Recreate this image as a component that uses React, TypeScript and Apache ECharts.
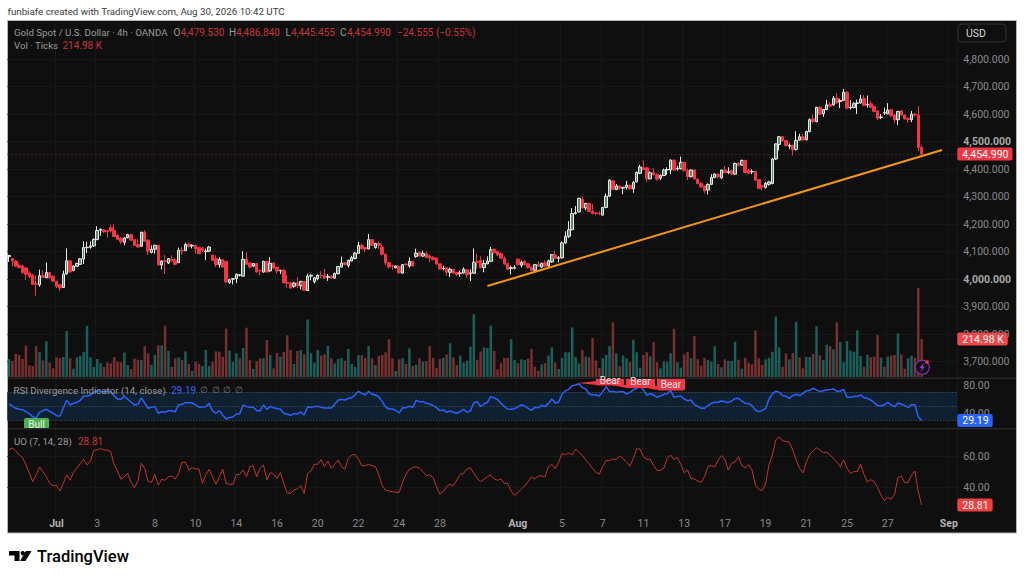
import React, { useEffect, useRef } from "react";
import * as echarts from "echarts";

// open, close, low, high
const candles: number[][] = [
[4082,4086,4063,4089],[4075,4066,4047,4077],[4066,4048,4044,4070],[4050,4043,4038,4058],[4048,4024,4020,4053],[4041,4018,3997,4044],[4022,4010,4004,4029],[4016,3981,3980,4018],[3985,3982,3940,4014],[3980,4013,3973,4035],
[4013,4007,4004,4032],[4005,4024,4004,4061],[4024,4005,4002,4025],[4011,3993,3992,4014],[3993,3973,3968,3993],[3980,3968,3957,3981],[3970,4019,3969,4031],[4019,4067,4016,4112],[4067,4026,4024,4069],[4032,4048,4029,4050],
[4047,4057,4044,4060],[4054,4074,4052,4077],[4074,4115,4055,4138],[4115,4116,4095,4136],[4116,4121,4111,4138],[4121,4145,4117,4148],[4144,4177,4142,4193],[4178,4182,4158,4184],[4179,4172,4168,4182],[4176,4173,4151,4179],
[4187,4177,4170,4199],[4177,4155,4154,4200],[4160,4145,4142,4162],[4150,4136,4127,4153],[4134,4150,4123,4153],[4151,4162,4148,4165],[4162,4142,4141,4165],[4144,4123,4121,4145],[4126,4117,4115,4145],[4120,4171,4117,4172],
[4171,4138,4137,4178],[4142,4102,4088,4144],[4097,4109,4094,4123],[4109,4123,4093,4126],[4123,4052,4050,4126],[4052,4066,4035,4069],[4067,4065,4019,4088],[4059,4075,4055,4077],[4071,4067,4063,4087],[4070,4054,4050,4077],
[4060,4105,4059,4115],[4105,4103,4089,4117],[4104,4126,4102,4133],[4127,4119,4116,4134],[4121,4123,4112,4127],[4123,4110,4093,4126],[4115,4093,4092,4117],[4113,4105,4099,4117],[4100,4102,4069,4111],[4102,4117,4099,4120],
[4088,4069,4067,4089],[4075,4053,4044,4087],[4053,4072,4042,4080],[4071,4044,4043,4072],[4065,3990,3987,4066],[3988,3998,3983,4002],[4000,4002,3981,4002],[4002,4018,3986,4021],[4014,4016,4010,4019],[4011,4072,4010,4102],
[4072,4054,4053,4099],[4059,4044,4039,4061],[4048,4057,4044,4059],[4057,4026,4025,4059],[4031,4030,4013,4035],[4026,4065,4024,4067],[4065,4026,4025,4066],[4030,4058,4027,4080],[4059,4040,4038,4060],[4043,4030,4020,4046],
[4030,4032,4019,4035],[4032,3987,3986,4038],[3988,3986,3969,4014],[3987,3968,3965,3990],[3974,3986,3969,3990],[3987,3976,3968,4007],[3976,3992,3963,3994],[3992,3960,3959,3993],[3959,4011,3958,4020],[4011,4014,3996,4018],
[3991,4005,3984,4008],[4002,4014,3996,4018],[4014,4013,4002,4029],[4014,4004,4002,4038],[4007,4009,3994,4019],[4011,4004,4002,4014],[4004,4021,4001,4024],[4020,4046,4018,4048],[4044,4059,4043,4082],[4060,4053,4050,4063],
[4050,4069,4042,4071],[4066,4078,4065,4085],[4075,4095,4072,4099],[4094,4123,4093,4136],[4123,4111,4108,4130],[4115,4109,4097,4117],[4110,4144,4109,4164],[4144,4123,4121,4145],[4115,4130,4111,4132],[4130,4123,4111,4138],
[4117,4091,4086,4126],[4091,4059,4050,4093],[4060,4044,4038,4062],[4050,4048,4034,4053],[4042,4048,4039,4050],[4047,4023,4021,4048],[4022,4053,4020,4055],[4055,4053,4050,4057],[4048,4065,4042,4079],[4065,4048,4047,4066],
[4083,4095,4078,4111],[4098,4084,4083,4100],[4084,4094,4081,4104],[4093,4078,4077,4101],[4085,4078,4061,4090],[4079,4072,4068,4085],[4077,4055,4053,4078],[4056,4037,4036,4057],[4038,4040,4032,4049],[4042,4025,4012,4043],
[4025,4036,4008,4042],[4036,4022,4020,4038],[4025,4017,4012,4026],[4021,4023,4008,4032],[4023,4036,4020,4043],[4034,4016,4005,4036],[4020,4023,3993,4036],[4022,4062,4020,4112],[4064,4061,4037,4093],[4068,4042,4040,4083],
[4042,4057,4025,4071],[4056,4066,4054,4083],[4065,4107,4062,4117],[4109,4096,4094,4112],[4101,4088,4085,4104],[4093,4076,4075,4098],[4076,4055,4053,4083],[4057,4036,4034,4059],[4039,4042,4017,4049],[4040,4042,4036,4051],
[4073,4053,4050,4076],[4051,4061,4043,4068],[4066,4053,4050,4068],[4056,4042,4039,4059],[4044,4032,4028,4047],[4033,4053,4027,4055],[4054,4047,4044,4066],[4044,4057,4042,4061],[4060,4047,4044,4068],[4049,4067,4042,4071],
[4063,4089,4059,4092],[4088,4076,4073,4104],[4076,4078,4061,4084],[4078,4132,4074,4137],[4132,4156,4129,4174],[4156,4180,4150,4211],[4180,4239,4178,4259],[4239,4242,4235,4266],[4245,4294,4242,4296],[4290,4259,4257,4300],
[4259,4275,4251,4278],[4276,4246,4245,4278],[4247,4239,4236,4273],[4241,4239,4233,4244],[4240,4238,4233,4247],[4233,4261,4233,4263],[4261,4302,4258,4312],[4302,4360,4300,4364],[4358,4326,4324,4360],[4326,4339,4324,4346],
[4339,4330,4326,4341],[4331,4334,4309,4336],[4334,4342,4326,4358],[4342,4329,4326,4345],[4329,4352,4314,4357],[4354,4388,4352,4392],[4385,4408,4382,4415],[4405,4398,4397,4432],[4405,4365,4354,4408],[4365,4387,4363,4392],
[4388,4380,4377,4403],[4381,4364,4358,4385],[4368,4377,4360,4381],[4377,4397,4375,4402],[4397,4399,4380,4407],[4397,4433,4382,4436],[4433,4397,4395,4435],[4401,4403,4395,4412],[4402,4425,4399,4446],[4425,4395,4392,4427],
[4395,4373,4360,4402],[4373,4397,4370,4399],[4397,4364,4363,4399],[4364,4348,4345,4367],[4349,4336,4331,4352],[4339,4321,4312,4341],[4324,4345,4308,4348],[4345,4370,4342,4382],[4370,4382,4367,4385],[4382,4373,4368,4385],
[4369,4397,4365,4399],[4397,4387,4385,4412],[4388,4391,4382,4407],[4395,4382,4379,4397],[4382,4421,4380,4424],[4422,4414,4409,4425],[4415,4432,4412,4435],[4432,4388,4387,4433],[4397,4385,4382,4399],[4390,4392,4382,4399],
[4392,4360,4358,4395],[4362,4330,4328,4363],[4340,4336,4324,4342],[4334,4348,4329,4354],[4345,4354,4340,4358],[4348,4437,4345,4440],[4437,4492,4433,4494],[4490,4518,4468,4521],[4518,4503,4500,4521],[4504,4486,4482,4506],
[4484,4487,4473,4494],[4487,4470,4449,4489],[4472,4505,4468,4538],[4506,4518,4504,4529],[4518,4506,4504,4527],[4507,4537,4505,4540],[4537,4580,4534,4585],[4583,4573,4567,4600],[4573,4625,4571,4627],[4625,4600,4597,4628],
[4602,4617,4590,4619],[4617,4634,4615,4652],[4636,4629,4624,4644],[4634,4658,4630,4666],[4658,4641,4639,4677],[4646,4650,4622,4656],[4650,4680,4649,4692],[4680,4622,4618,4683],[4623,4625,4617,4651],[4624,4638,4622,4644],
[4639,4641,4601,4653],[4641,4655,4639,4670],[4658,4632,4629,4670],[4634,4636,4624,4668],[4638,4625,4622,4649],[4627,4610,4607,4632],[4612,4585,4579,4615],[4588,4590,4582,4600],[4604,4606,4597,4624],[4601,4615,4600,4640],
[4616,4594,4591,4618],[4597,4579,4567,4600],[4580,4610,4561,4612],[4612,4597,4595,4615],[4597,4583,4580,4600],[4585,4580,4568,4588],[4580,4600,4571,4612],[4600,4597,4590,4605],[4597,4479.5,4466,4629],[4479.53,4454.99,4445.455,4486.84],
];

// thousands of ticks
const volumes: number[] = [
102,91,132,125,102,179,66,62,175,142,94,202,81,49,111,106,113,260,106,47,
111,119,142,289,111,57,102,79,57,83,77,113,87,83,138,68,45,104,98,96,
175,134,70,125,179,179,291,147,57,106,111,96,145,74,34,87,75,62,153,62,
87,145,143,115,274,149,85,134,106,164,279,96,45,89,106,106,209,125,49,136,
115,142,236,153,74,147,153,130,326,134,81,153,121,128,177,106,77,102,
106,91,159,74,57,123,123,108,175,106,68,119,125,140,213,106,34,100,106,74,
162,62,70,106,87,89,175,108,51,102,109,128,191,111,68,121,81,92,172,355,
98,145,168,164,291,147,43,79,108,108,213,96,79,100,96,104,159,58,34,72,
79,121,168,81,45,108,140,140,281,113,77,153,115,111,221,94,51,106,125,175,
309,134,62,121,106,85,211,140,53,125,140,117,196,83,49,87,87,134,272,83,
53,128,142,106,232,100,64,108,96,87,174,74,55,100,91,91,200,98,47,109,
81,72,262,106,68,100,109,143,342,168,58,134,100,136,313,111,49,113,113,130,
287,123,96,183,175,157,309,198,83,204,149,143,264,119,57,125,111,115,238,111,
58,115,121,125,247,128,47,106,121,109,504,214.98,
];

// t = teal bar, r = red bar
const volumeSides: string =
  "trrrrrrrrtrtrrrrttrt" + "ttttttttrrrrrrttrrrt" + "rrttrtrtrrtrtrtrrttt" + "rrrrrtttrtrrtrrtrtrr" + "trrrtrtrttttrrtrtt" +
  "trttttrrtrtrrrrrtrtr" + "trtrtrrrrrtrtrrttttt" + "rrtttrrrrrttrttrrrrt" + "rttrtttttttrtrrrrttt" + "rtrttrtttrrtrrttttrt" +
  "trrtrrrrtttrtrtttrtr" + "rrrrrtttttrrtrtrrttr" + "trttrtrtttttttrtrrrt" + "rtrrtrrttrrr";

const rsiValues: number[] = [
52.9,50.0,46.7,45.3,44.8,41.9,39.1,34.8,32.9,41.0,43.4,45.3,42.4,40.0,36.2,35.8,46.7,58.1,51.5,53.8,
55.3,58.1,63.8,64.3,65.7,69.6,71.9,71.0,70.5,71.0,70.5,64.8,60.0,59.6,63.8,59.6,55.3,51.5,52.4,61.5,
54.3,46.7,48.1,49.1,39.6,41.9,41.0,43.4,42.9,41.9,51.5,52.4,54.8,54.8,54.3,51.5,48.1,48.6,49.1,53.8,
42.9,39.6,43.4,37.2,31.5,33.4,34.3,38.6,39.1,51.5,49.1,48.1,48.1,43.4,42.9,51.5,45.3,49.1,47.6,46.2,
45.7,39.6,38.1,36.7,39.1,38.6,41.5,37.2,48.6,48.1,49.1,49.6,48.1,47.2,47.2,47.2,52.4,58.1,
59.6,58.6,61.0,61.9,65.7,71.0,68.1,65.7,71.0,66.7,65.7,62.9,56.2,48.6,45.7,45.7,43.8,40.0,47.6,47.6,
49.6,48.1,58.1,56.2,56.2,53.8,52.9,50.5,47.6,43.4,44.3,41.0,42.9,41.0,39.6,41.9,45.3,41.0,42.9,54.8,
56.2,49.1,52.9,55.3,63.4,61.5,59.1,53.8,49.6,45.3,45.3,46.2,48.6,51.5,50.0,46.7,43.8,48.1,47.6,51.0,
49.1,53.8,60.0,54.3,55.3,67.2,71.9,73.8,79.1,80.0,81.9,76.2,74.3,67.2,65.7,65.7,64.3,70.5,77.6,70.5,
71.0,69.6,70.5,70.5,67.2,69.6,72.9,75.3,78.6,72.9,65.3,67.6,65.7,62.4,64.3,66.7,67.6,72.4,62.4,63.4,
64.3,60.0,57.6,58.6,51.9,49.6,46.7,46.7,50.5,53.8,55.3,55.3,57.2,56.2,54.8,57.2,60.5,61.0,57.2,53.8,
53.4,50.5,44.3,41.9,43.8,46.2,60.0,67.2,71.0,69.6,64.8,63.8,61.0,64.8,66.7,64.8,68.1,71.5,72.4,75.3,
73.0,70.5,71.9,72.9,73.4,74.3,71.0,71.5,73.8,62.4,62.4,63.4,63.8,65.7,61.9,61.0,58.6,54.8,50.5,50.5,
51.5,55.3,51.5,48.6,54.3,52.4,50.5,48.1,51.9,51.9,34.8,29.19,
];

const uoValues: number[] = [
64.5,65.6,63.7,61.1,59.4,54.7,49.3,43.9,48.2,53.4,50.4,47.1,42.8,41.3,41.3,37.9,42.8,48.2,44.8,49.9,
52.5,55.7,58.3,54.7,57.2,64.3,64.3,65.4,64.3,64.3,63.2,54.7,50.8,45.4,47.1,49.3,43.3,40.0,44.3,55.7,
52.5,43.9,43.5,48.6,41.7,45.4,44.8,47.1,47.6,45.6,49.3,56.4,56.4,51.4,52.9,52.1,52.1,42.8,48.2,51.9,
47.1,42.2,47.1,51.9,42.8,42.2,42.2,48.6,48.6,51.4,47.1,53.6,54.0,47.1,52.5,54.7,45.0,49.7,48.6,46.0,
49.7,42.8,36.4,36.4,38.5,39.2,41.3,36.2,49.1,50.8,55.1,55.1,58.1,53.6,57.2,52.5,55.1,57.9,
53.6,51.9,58.9,61.1,61.5,58.5,54.2,54.2,55.1,54.2,53.6,48.2,41.3,38.5,37.9,37.4,37.0,37.0,43.5,48.6,
51.9,52.9,53.6,52.5,50.4,47.8,48.2,46.5,40.7,35.9,37.4,40.7,42.2,41.3,45.0,48.6,49.3,52.1,52.9,49.3,
46.0,43.9,45.4,47.1,48.2,45.6,44.8,45.6,42.8,42.6,37.9,34.9,37.0,39.2,41.1,43.9,47.1,45.6,47.6,47.6,
47.1,53.6,55.1,52.3,56.4,62.0,61.3,62.4,61.1,65.0,62.8,60.9,57.9,55.3,52.5,49.9,48.8,53.6,57.7,57.4,
58.5,58.3,60.4,58.9,56.4,53.8,58.9,65.0,65.0,60.0,58.3,58.5,54.2,51.2,51.0,52.5,58.9,61.1,58.3,59.4,
55.1,49.7,51.4,46.0,45.6,44.3,43.5,47.1,53.6,54.2,53.4,57.9,60.7,58.3,51.4,55.7,56.6,60.0,54.2,52.7,
54.9,51.4,41.7,39.0,38.1,42.4,54.7,61.1,70.8,72.9,70.3,69.9,69.3,64.3,57.9,52.5,49.5,56.4,61.5,63.7,
65.8,64.3,62.6,63.0,61.1,58.9,56.4,53.6,57.9,52.5,49.3,50.4,50.4,55.1,48.6,43.7,45.2,43.9,40.0,35.3,
31.6,33.8,32.5,35.7,46.5,47.6,43.3,43.3,48.2,50.8,37.4,28.81,
];

const tickSlots: number[] = [14, 26, 43, 55, 67, 79, 91, 103, 115, 127, 150, 163, 175, 187, 199, 211, 223, 235, 247, 259, 277];
const tickLabels: string[] = ["Jul", "3", "8", "10", "14", "16", "20", "22", "24", "28", "Aug", "5", "7", "11", "13", "17", "19", "21", "25", "27", "Sep"];
const strongTicks: string[] = ["Jul", "Aug", "Sep"];

const lastPrice = 4454.99;
const lastVolume = 214.98;
const lastRsi = 29.19;
const lastUo = 28.81;
const trendStart: [number, number] = [141, 3975];
const trendEnd: [number, number] = [275, 4470];

const FONT = "Roboto, 'Liberation Sans', sans-serif";
const SLOTS = 280;
const categories: string[] = Array.from({ length: SLOTS }, (_, i) => {
  const k = tickSlots.indexOf(i);
  return k >= 0 ? tickLabels[k] : "";
});

const GL = 7.3, GW = 950;

function txt(x: number, y: number, text: string, fill: string, size = 10, extra: any = {}) {
  return { type: "text", x, y, z: 100, style: { text, fill, fontFamily: FONT, fontSize: size, textVerticalAlign: "middle", ...extra } };
}
function badge(value: number, text: string, bg: string) {
  return {
    yAxis: value,
    lineStyle: { color: "rgba(0,0,0,0)", width: 0 },
    label: {
      show: true, position: "end", formatter: text, distance: 0, color: "#ffffff",
      backgroundColor: bg, padding: [1, 4, 1, 5], borderRadius: 2, fontSize: 10.5, fontFamily: FONT,
    },
  };
}
const dotted = (v: number) => ({ yAxis: v, lineStyle: { color: "#4d5a66", type: [1, 2], width: 1 }, label: { show: false } });

export default function App() {
  const ref = useRef<HTMLDivElement>(null);
  useEffect(() => {
    const chart = echarts.init(ref.current!, undefined, { renderer: "svg" });
    const red = "#c8323c";
    const grey = "#9a9a9a";
    const hiddenX = (g: number) => ({ type: "category", gridIndex: g, data: categories, show: false });
    const yBase = { axisLine: { show: false }, axisTick: { show: false } };
    const yLabel = { color: "#8a8a8a", fontFamily: FONT, fontSize: 10.5, showMinLabel: false, showMaxLabel: false, margin: 6 };
    const isTick = (i: number) => tickSlots.includes(i);

    chart.setOption({
      animation: false,
      backgroundColor: "#ffffff",
      grid: [
        { left: GL, width: GW, top: 31.7, height: 357.5 },
        { left: GL, width: GW, top: 21, height: 356 },
        { left: GL, width: GW, top: 357, height: 84 },
        { left: GL, width: GW, top: 425.7, height: 93 },
        { left: GL, width: GW, top: 21, height: 494 },
      ],
      xAxis: [
        hiddenX(0), hiddenX(1), hiddenX(2), hiddenX(3),
        {
          type: "category", gridIndex: 4, data: categories,
          axisLine: { show: false }, axisTick: { show: false },
          splitLine: { show: true, interval: (i: number) => isTick(i), lineStyle: { color: "#181818", width: 1 } },
          axisLabel: {
            interval: (i: number) => isTick(i), margin: 3, color: "#8a8a8a", fontSize: 10.5, fontFamily: FONT,
            formatter: (v: string) => (strongTicks.includes(v) ? `{b|${v}}` : v),
            rich: { b: { color: "#b4b4b4", fontWeight: 700, fontSize: 10.5, fontFamily: FONT } },
          },
        },
      ],
      yAxis: [
        {
          ...yBase, type: "value", gridIndex: 0, position: "right", min: 3600, max: 4900, interval: 100,
          splitLine: { show: true, showMinLine: false, showMaxLine: false, lineStyle: { color: "#181818" } },
          axisLabel: {
            ...yLabel,
            formatter: (v: number) => {
              const s = v.toLocaleString("en-US", { minimumFractionDigits: 3 });
              return v === 4000 || v === 4500 ? `{b|${s}}` : s;
            },
            rich: { b: { color: "#a8a8a8", fontWeight: 700, fontSize: 10.5, fontFamily: FONT } },
          },
        },
        { ...yBase, type: "value", gridIndex: 1, min: 0, max: 2015, show: false, splitLine: { show: false } },
        {
          ...yBase, type: "value", gridIndex: 2, position: "right", min: 0, max: 120, interval: 40,
          splitLine: { show: false },
          axisLabel: { ...yLabel, formatter: (v: number) => v.toFixed(2) },
        },
        {
          ...yBase, type: "value", gridIndex: 3, position: "right", min: 20, max: 80, interval: 20,
          splitLine: { show: true, showMinLine: false, showMaxLine: false, lineStyle: { color: "#181818" } },
          axisLabel: { ...yLabel, formatter: (v: number) => v.toFixed(2) },
        },
        { type: "value", gridIndex: 4, min: 0, max: 1, show: false, splitLine: { show: false } },
      ],
      series: [
        {
          type: "bar", name: "Vol", xAxisIndex: 1, yAxisIndex: 1, barWidth: 2.5, silent: true,
          data: volumes.map((v, i) => ({
            value: v,
            itemStyle: { color: volumeSides[i] === "t" ? "#1b5f5a" : "#76302f" },
          })),
          markLine: {
            symbol: "none", silent: true,
            data: [badge(lastVolume, "214.98 K", "#f0474a")],
          },
        },
        {
          type: "candlestick", name: "Gold", xAxisIndex: 0, yAxisIndex: 0, barWidth: 3, silent: true,
          itemStyle: { color: "#5f8a70", color0: "#f23645", borderColor: "#e4ede5", borderColor0: "#f23645", borderWidth: 1 },
          data: candles,
          markLine: {
            symbol: "none", silent: true, precision: 3,
            data: [
              {
                yAxis: lastPrice,
                lineStyle: { color: "#7a2c33", type: [1, 3], width: 1 },
                label: {
                  show: true, position: "end", formatter: "4,454.990", distance: 0, color: "#ffffff",
                  backgroundColor: "#f23645", padding: [1, 4, 1, 5], borderRadius: 2, fontSize: 10.5, fontFamily: FONT,
                },
              },
              [
                { coord: trendStart, lineStyle: { color: "#f2960f", type: "solid", width: 2 }, label: { show: false } },
                { coord: trendEnd },
              ],
            ],
          },
        },
        {
          type: "line", name: "RSI", xAxisIndex: 2, yAxisIndex: 2, data: rsiValues, showSymbol: false, silent: true,
          lineStyle: { color: "#2962ff", width: 1.5 }, z: 3,
          markArea: { silent: true, itemStyle: { color: "#0f2130" }, data: [[{ yAxis: 30 }, { yAxis: 70 }]] },
          markLine: {
            symbol: "none", silent: true,
            data: [dotted(70), dotted(50), dotted(30), badge(lastRsi, "29.19", "#2962ff")],
          },
        },
        {
          type: "line", name: "UO", xAxisIndex: 3, yAxisIndex: 3, data: uoValues, showSymbol: false, silent: true,
          lineStyle: { color: "#c23431", width: 1 },
          markLine: {
            symbol: "none", silent: true,
            data: [badge(lastUo, "28.81", "#f23f3f")],
          },
        },
      ],
      graphic: [
        { type: "rect", z: 0, shape: { x: 7.5, y: 20.5, width: 1009, height: 512.5 }, style: { fill: "#0f0f0f", stroke: "#b4b4b4", lineWidth: 1 } },
        // pane separators
        { type: "rect", z: 90, shape: { x: 8, y: 377.6, width: 1008, height: 1.4 }, style: { fill: "#262626" } },
        { type: "rect", z: 90, shape: { x: 8, y: 428, width: 1008, height: 1.4 }, style: { fill: "#262626" } },
        // bull & bear marks
        { type: "rect", z: 80, shape: { x: 24, y: 418, width: 25, height: 10, r: [2, 2, 0, 0] }, style: { fill: "#4caf50" } },
        txt(36.5, 424.5, "Bull", "#e8f5e9", 10, { textAlign: "center" }),
        { type: "polygon", z: 80, shape: { points: [[578, 383], [597, 381], [597, 385]] }, style: { fill: "#f23645" } },
        { type: "polygon", z: 80, shape: { points: [[612, 385], [627, 385], [627, 388]] }, style: { fill: "#f23645" } },
        { type: "polygon", z: 80, shape: { points: [[642, 387], [657, 386], [657, 390]] }, style: { fill: "#f23645" } },
        { type: "rect", z: 81, shape: { x: 596, y: 378.5, width: 28, height: 7, r: [0, 0, 2, 2] }, style: { fill: "#f23645" } },
        { type: "rect", z: 81, shape: { x: 626, y: 378.5, width: 29, height: 9.5, r: [0, 0, 2, 2] }, style: { fill: "#f23645" } },
        { type: "rect", z: 81, shape: { x: 657, y: 378.5, width: 28, height: 12, r: [0, 0, 2, 2] }, style: { fill: "#f23645" } },
        txt(610, 380.5, "Bear", "#ffe4e6", 10, { textAlign: "center" }),
        txt(640.5, 381.5, "Bear", "#ffe4e6", 10, { textAlign: "center" }),
        txt(671, 384, "Bear", "#ffe4e6", 10, { textAlign: "center" }),
        // page header
        txt(7.5, 11.5, "funbiafe created with TradingView.com, Aug 30, 2026 10:42 UTC", "#3a3a3a", 9.75),
        // legend
        txt(14, 32.5, "Gold Spot / U.S. Dollar · 4h · OANDA", grey, 9.7),
        txt(173.5, 32.5, "O", grey), txt(180.5, 32.5, "4,479.530", red),
        txt(229, 32.5, "H", grey), txt(236, 32.5, "4,486.840", red),
        txt(285.5, 32.5, "L", grey), txt(291, 32.5, "4,445.455", red),
        txt(340, 32.5, "C", grey), txt(347, 32.5, "4,454.990", red),
        txt(397, 32.5, "−24.555 (−0.55%)", red),
        txt(14, 45.5, "Vol · Ticks", grey, 9.7), txt(62.5, 45.5, "214.98 K", red),
        txt(13.5, 390, "RSI Divergence Indicator (14, close)", grey, 9.7),
        txt(171, 390, "29.19", "#2962ff"),
        txt(200, 390, "∅", "#777777", 9), txt(211.5, 390, "∅", "#777777", 9),
        txt(223, 390, "∅", "#777777", 9), txt(234.5, 390, "∅", "#777777", 9),
        txt(14, 441, "UO (7, 14, 28)", grey, 9.7), txt(78, 441, "28.81", red),
        // USD button
        { type: "rect", z: 100, shape: { x: 958, y: 24, width: 48, height: 18, r: 4 }, style: { fill: "#0f0f0f", stroke: "#333333", lineWidth: 1 } },
        txt(966, 33, "USD", "#d6d6d6", 10.5),
        // bolt badge
        { type: "circle", z: 100, shape: { cx: 922.3, cy: 367.3, r: 7 }, style: { fill: "#161018", stroke: "#7b2fa8", lineWidth: 1.3 } },
        { type: "polygon", z: 101, shape: { points: [[924, 362.5], [919.5, 368], [922, 368], [920.5, 372], [925, 366.5], [922.5, 366.5]] }, style: { fill: "#8e3fc0" } },
        { type: "circle", z: 102, shape: { cx: 927, cy: 362, r: 1.8 }, style: { fill: "#f23645" } },
        // logo
        { type: "polygon", z: 100, shape: { points: [[9, 551], [19.5, 551], [19.5, 561], [14.5, 561], [14.5, 555.5], [9, 555.5]] }, style: { fill: "#000000" } },
        { type: "circle", z: 100, shape: { cx: 22.8, cy: 553.2, r: 2.2 }, style: { fill: "#000000" } },
        { type: "polygon", z: 100, shape: { points: [[26, 551], [31.5, 551], [25.5, 561], [20, 561]] }, style: { fill: "#000000" } },
        txt(37, 556, "TradingView", "#000000", 16.5, { fontWeight: 500 }),
      ],
    });
    return () => chart.dispose();
  }, []);
  return <div ref={ref} style={{ position: "absolute", left: 0, top: 0, width: 1024, height: 579 }} />;
}
